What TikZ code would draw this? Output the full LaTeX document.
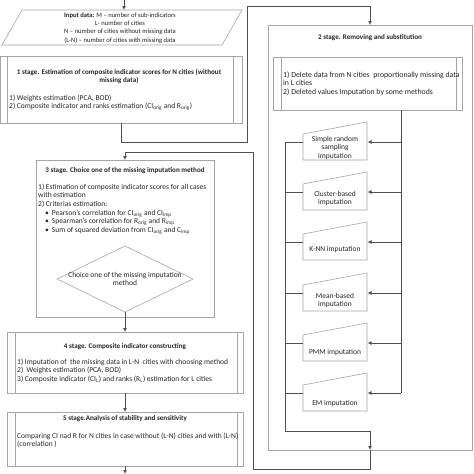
\documentclass[tikz,border=0pt]{standalone}
\usepackage{fontspec}
\setmainfont{Carlito}
\usetikzlibrary{arrows.meta}
\definecolor{boxgray}{HTML}{A6A6A6}
\definecolor{conngray}{HTML}{505050}
\definecolor{txtgray}{HTML}{262626}
\begin{document}
\begin{tikzpicture}[x=1pt,y=-1pt,
  font=\fontsize{7.5}{8.6}\selectfont, text=txtgray,
  box/.style={draw=boxgray, line width=0.6pt},
  conn/.style={draw=conngray, line width=0.9pt},
  arr/.style={conn, -{Latex[length=4pt,width=4pt]}},
  txt/.style={inner sep=0pt, anchor=base west, align=left},
  ctxt/.style={inner sep=0pt, anchor=base, align=center},
  ttl/.style={inner sep=0pt, anchor=base, align=center, font=\fontsize{7.1}{8.4}\selectfont\bfseries},
  boxnode/.style={box, rectangle, inner sep=0pt, outer sep=0pt}]
\useasboundingbox (0,0) rectangle (474,474);
\fill[white] (0,0) rectangle (474,474);

% ---------- input data ----------
\draw[box] (2,45) -- (22,10) -- (242,10) -- (222,45) -- cycle;
\coordinate (start) at (124,0);
\coordinate (inTop) at (124,10);
\draw[arr] (start) -- (inTop);
\node[ctxt, font=\fontsize{6.6}{8.4}\selectfont] (input) at (120,42.2) {\textbf{Input data:} M – number of sub-indicators\\
  L- number of cities\\
  N – number of cities without missing data\\
  (L-N) – number of cities with missing data};

% ---------- stage 1 ----------
\node[boxnode, minimum width=242pt, minimum height=67pt] (s1) at (121.5,89.5) {};
\draw[box] ([xshift=7pt]s1.north west) -- ([xshift=7pt]s1.south west);
\draw[box] ([xshift=-9pt]s1.north east) -- ([xshift=-9pt]s1.south east);
\node[ttl] (s1t) at (119,82.4) {1 stage. Estimation of composite indicator scores for N cities (without\\
  missing data)};
\node[txt] (s1l) at (9,108.6) {1) Weights estimation (PCA, BOD)\\
  2) Composite indicator and ranks estimation (CI\textsubscript{orig} and R\textsubscript{orig})};

% ---------- stage 2 ----------
\node[boxnode, minimum width=204pt, minimum height=425pt] (s2) at (370,237.5) {};
\node[ttl] (s2t) at (370,39) {2 stage. Removing and substitution};
\node[boxnode, minimum width=189pt, minimum height=53pt] (s2a) at (367.5,83.5) {};
\draw[box] ([xshift=8pt]s2a.north west) -- ([xshift=8pt]s2a.south west);
\draw[box] ([xshift=-6pt]s2a.north east) -- ([xshift=-6pt]s2a.south east);
\node[txt, font=\fontsize{7.8}{8.6}\selectfont] (s2al) at (283,94.2) {1) Delete data from N cities\ \ proportionally missing data\\
  in L cities\\
  2) Deleted values Imputation by some methods};

\coordinate (split) at (401,0);
\draw[conn] (s2a.south -| split) -- (401,393);
\foreach \y/\n in {142/m1,192/m2,242/m3,293/m4,343/m5,393/m6}{
  \draw[box] (303,\y-8) -- (367,\y-20) -- (367,\y+18) -- (303,\y+18) -- cycle;
  \coordinate (\n r) at (367.5,\y);
  \coordinate (\n l) at (303,\y);
  \coordinate (\n s) at (401,\y);
  \coordinate (\n b) at (285,\y);
  \draw[arr] (\n s) -- (\n r);
  \draw[conn] (\n l) -- (\n b);
}
\node[ctxt] (t1) at (335,158.2) {Simple random\\ sampling\\ imputation};
\node[ctxt] (t2) at (335,204.6) {Cluster-based\\ imputation};
\node[ctxt] (t3) at (335,251) {K-NN imputation};
\node[ctxt] (t4) at (335,306.6) {Mean-based\\ imputation};
\node[ctxt] (t5) at (335,354) {PMM imputation};
\node[ctxt] (t6) at (335,405) {EM imputation};
\coordinate (lbot) at (285,431);
\draw[arr] (m1b) -- (lbot) -- (s2.south |- lbot) -- (s2.south);

% stage 1 -> stage 2
\draw[arr] (s1.south) -- (s1.south |- 0,142) -- (247,142) -- (247,6) -- (s2.north |- 0,6) -- (s2.north);

% ---------- stage 3 ----------
\node[boxnode, minimum width=178pt, minimum height=157pt] (s3) at (125,238.5) {};
\node[ttl] (s3t) at (125,172) {3 stage. Choice one of the missing imputation method};
\node[txt] (s3l) at (38,206.2) {1) Estimation of composite indicator scores for all cases\\
  with estimation\\
  2) Criterias estimation:};
\node[txt] (s3b) at (45,232.2) {•\hspace{3pt}Pearson’s correlation for CI\textsubscript{orig} and CI\textsubscript{imp}\\
  •\hspace{3pt}Spearman’s correlation for R\textsubscript{orig} and R\textsubscript{imp}\\
  •\hspace{3pt}Sum of squared deviation from CI\textsubscript{orig} and C\textsubscript{imp}};
\coordinate (dtop) at (125,246);
\coordinate (dbot) at (125,312);
\draw[box] (dtop) -- (193,279) -- (dbot) -- (57,279) -- cycle;
\node[ctxt] (dt) at (125,285.6) {Choice one of the missing imputation\\ method};

% stage 2 -> stage 3
\draw[arr] (s2.south) -- (370,469) -- (253,469) -- (253,152) -- (s3.north |- 0,152) -- (s3.north);

% ---------- stage 4 ----------
\node[boxnode, minimum width=236pt, minimum height=61pt] (s4) at (125,362.5) {};
\draw[box] ([xshift=8pt]s4.north west) -- ([xshift=8pt]s4.south west);
\draw[box] ([xshift=-6pt]s4.north east) -- ([xshift=-6pt]s4.south east);
\node[ttl] (s4t) at (125,348) {4 stage. Composite indicator constructing};
\node[txt] (s4l) at (17,381.2) {1) Imputation of\ \ the missing data in L-N\ \ cities with choosing method\\
  2)\ \ Weights estimation (PCA, BOD)\\
  3) Composite indicator (CI\textsubscript{L}) and ranks (R\textsubscript{L}) estimation for L cities};
\draw[arr] (dbot) -- (s4.north);

% ---------- stage 5 ----------
\node[boxnode, minimum width=236pt, minimum height=54pt] (s5) at (125,439) {};
\draw[box] ([xshift=8pt]s5.north west) -- ([xshift=8pt]s5.south west);
\draw[box] ([xshift=-6pt]s5.north east) -- ([xshift=-6pt]s5.south east);
\node[ttl] (s5t) at (125,420) {5 stage.Analysis of stability and sensitivity};
\node[txt] (s5l) at (17,446.6) {Comparing CI nad R for N cities in case without (L-N) cities and with (L-N)\\
  (correlation )};
\draw[arr] (s4.south) -- (s5.north);
\coordinate (fin) at (125,474);
\draw[arr] (s5.south) -- (fin);
\end{tikzpicture}
\end{document}
